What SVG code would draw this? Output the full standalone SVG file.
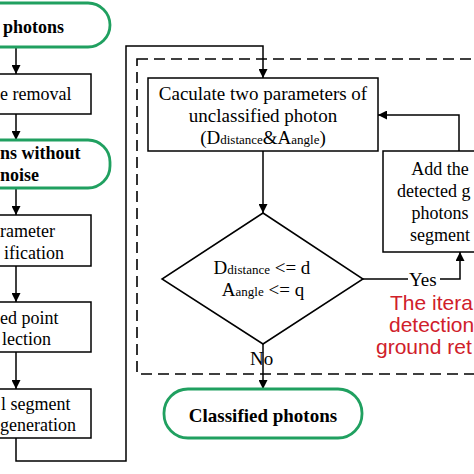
<svg xmlns="http://www.w3.org/2000/svg" width="474" height="474" viewBox="0 0 474 474">
<defs>
<marker id="ah" viewBox="0 0 10 10" refX="10" refY="5" markerWidth="9" markerHeight="9" markerUnits="userSpaceOnUse" orient="auto">
<path d="M0,0 L10,5 L0,10 z" fill="#000"/>
</marker>
<style>
.box{fill:#fff;stroke:#000;stroke-width:1.5}
.term{fill:#fff;stroke:#20a060;stroke-width:2.8}
.ln{fill:none;stroke:#000;stroke-width:1.5}
.ar{fill:none;stroke:#000;stroke-width:1.5;marker-end:url(#ah)}
.dash{fill:none;stroke:#000;stroke-width:1.6;stroke-dasharray:11 6}
.t{font-family:"Liberation Serif","Times New Roman",serif;font-size:18px;fill:#000}
.tb{font-family:"Liberation Serif","Times New Roman",serif;font-size:18px;font-weight:bold;fill:#000}
.t19{font-family:"Liberation Serif","Times New Roman",serif;font-size:19px;fill:#000}
.sub{font-size:13px}
.red{font-family:"Liberation Sans",Arial,sans-serif;font-size:21px;fill:#d0202a}
</style>
</defs>
<rect width="474" height="474" fill="#fff"/>

<g id="connectors">
<line class="ar" x1="16" y1="47" x2="16" y2="74"/>
<line class="ar" x1="16" y1="114" x2="16" y2="140"/>
<line class="ar" x1="16" y1="188" x2="16" y2="215"/>
<line class="ar" x1="16" y1="266" x2="16" y2="302"/>
<line class="ar" x1="16" y1="352" x2="16" y2="389"/>
<polyline class="ar" points="16,438 16,461 126,461 126,46 263,46 263,78"/>
<line class="ar" x1="263" y1="151" x2="263" y2="213"/>
<polyline class="ln" points="363,279 408,279"/>
<polyline class="ar" points="440,279 460,279 460,252"/>
<polyline class="ar" points="459,151 459,115 378,115"/>
<line class="ar" x1="263" y1="344" x2="263" y2="389"/>
</g>

<rect class="dash" x="137" y="59" width="360" height="315"/>

<g id="n-raw">
<rect class="term" x="-60" y="3" width="170" height="44" rx="22"/>
<text class="tb" x="3" y="33">photons</text>
</g>
<g id="n-noise-removal">
<rect class="box" x="-60" y="74" width="151" height="40"/>
<text class="t" x="0" y="100">e removal</text>
</g>
<g id="n-without-noise">
<rect class="term" x="-60" y="140" width="170" height="48" rx="22"/>
<text class="tb" x="0" y="159">ns without</text>
<text class="tb" x="0" y="181">noise</text>
</g>
<g id="n-param">
<rect class="box" x="-60" y="215" width="151" height="51"/>
<text class="t" x="0" y="237">rameter</text>
<text class="t" x="4" y="259">ification</text>
</g>
<g id="n-seed">
<rect class="box" x="-60" y="302" width="151" height="50"/>
<text class="t" x="0" y="324">ed point</text>
<text class="t" x="2" y="345">lection</text>
</g>
<g id="n-segment">
<rect class="box" x="-60" y="389" width="151" height="49"/>
<text class="t" x="1" y="410">l segment</text>
<text class="t" x="0" y="431">generation</text>
</g>

<g id="n-calc">
<rect class="box" x="148" y="78" width="230" height="73"/>
<text class="t19" x="263" y="100" text-anchor="middle">Caculate two parameters of</text>
<text class="t19" x="263" y="122" text-anchor="middle">unclassified photon</text>
<text class="t19" x="263" y="144" text-anchor="middle">(D<tspan class="sub">distance</tspan>&amp;A<tspan class="sub">angle</tspan>)</text>
</g>

<g id="n-decision">
<polygon class="box" points="263,213 363,279 263,344 162,279"/>
<text class="t19" x="262" y="274" text-anchor="middle">D<tspan class="sub">distance</tspan> &lt;= d</text>
<text class="t19" x="263" y="296" text-anchor="middle">A<tspan class="sub">angle</tspan> &lt;= q</text>
</g>

<g id="n-add">
<rect class="box" x="383" y="151" width="120" height="101"/>
<text class="t" x="440" y="175" text-anchor="middle">Add the</text>
<text class="t" x="397" y="197">detected g</text>
<text class="t" x="440" y="219" text-anchor="middle">photons</text>
<text class="t" x="440" y="241" text-anchor="middle">segment</text>
</g>

<g id="labels">
<text class="t19" x="409" y="286">Yes</text>
<text class="t19" x="250" y="365">No</text>
<text class="red" x="390" y="310">The itera</text>
<text class="red" x="389" y="332">detection</text>
<text class="red" x="376" y="354">ground ret</text>
</g>

<g id="n-classified">
<rect class="term" x="164" y="389" width="198" height="49" rx="24"/>
<text class="tb" x="263" y="422" text-anchor="middle" style="font-size:19px">Classified photons</text>
</g>
</svg>
